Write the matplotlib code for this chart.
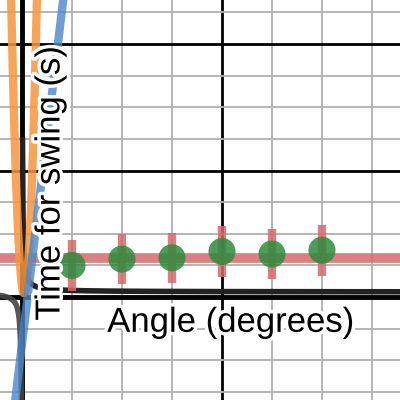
import numpy as np
import matplotlib.pyplot as plt
import matplotlib.patheffects as pe

angles = [5, 10, 15, 20, 25, 30]
times = [0.25, 0.30, 0.31, 0.36, 0.34, 0.37]
err = [0.2, 0.2, 0.2, 0.2, 0.2, 0.2]
mean_time = 0.31

plt.rcParams["font.family"] = ["Liberation Sans", "DejaVu Sans"]

fig = plt.figure(figsize=(4, 4), dpi=100)
ax = fig.add_axes([0, 0, 1, 1])
xmin, xmax, ymin, ymax = -2.2, 37.8, -0.814, 2.348
ax.set_xlim(xmin, xmax)
ax.set_ylim(ymin, ymax)

for x in np.arange(0, 40, 5):
    major = x % 20 == 0
    ax.axvline(x, color="black" if major else "#b0b0b0", lw=2 if major else 1.3, zorder=0)
for y in np.arange(-0.75, 2.5, 0.25):
    major = abs(y - round(y)) < 1e-9
    ax.axhline(y, color="black" if major else "#b0b0b0", lw=2 if major else 1.3, zorder=0)
ax.axhline(0, color="black", lw=3.5, zorder=1)
ax.axvline(0, color="black", lw=3.5, zorder=1)

ax.axhline(mean_time, color="#d46a6a", lw=7, alpha=0.85, zorder=2)

# black fit curve, both branches
xr = np.linspace(0.05, 40, 800)
ax.plot(xr, 0.04 + 0.06 / xr, color="#222222", lw=4, zorder=3)
xl = np.linspace(-3, -0.05, 300)
ax.plot(xl, 0.04 + 0.06 / xl, color="#444444", lw=4, alpha=0.9, zorder=3)

xp = np.linspace(-1.5, 1.9, 300)
ax.plot(xp, 0.03 + 1.4 * (xp - 0.2) ** 2, color="#f7963f", lw=6, alpha=0.85, zorder=4)
xb = np.linspace(-1, 5, 10)
ax.plot(xb, 0.66 * xb - 0.37, color="#4a86c8", lw=6, alpha=0.8, zorder=4)

ax.errorbar(angles, times, yerr=err, fmt="none", ecolor="#d46a6a", elinewidth=6, alpha=0.85, zorder=5)
ax.scatter(angles, times, s=380, color="#2e8b3e", alpha=0.85, zorder=6, edgecolors="none")

halo = [pe.withStroke(linewidth=5, foreground="white")]
ax.text(20.9, -0.2, "Angle (degrees)", fontsize=25, ha="center", va="center", zorder=7, path_effects=halo)
ax.text(2.8, 0.9, "Time for swing (s)", fontsize=25, rotation=90, ha="center", va="center", zorder=7, path_effects=halo)

ax.set_xticks([])
ax.set_yticks([])
for s in ax.spines.values():
    s.set_visible(False)
fig.savefig("out.png", dpi=100)
